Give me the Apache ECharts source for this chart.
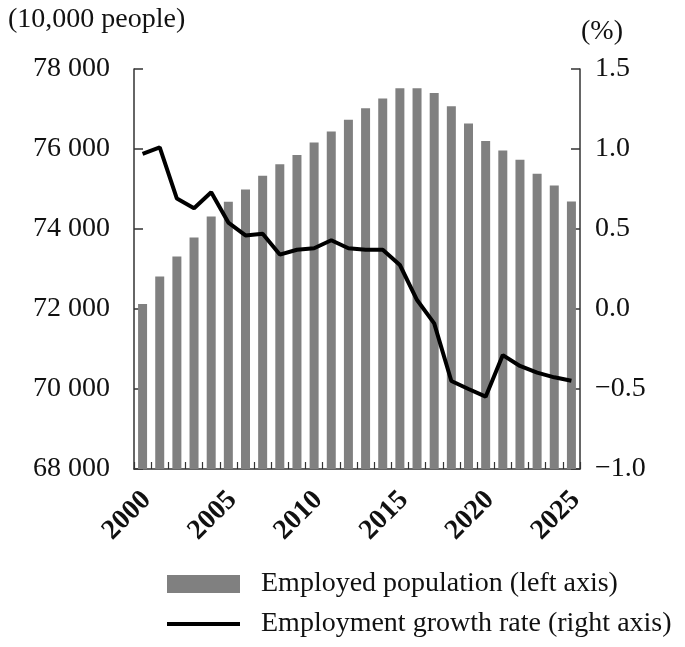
<!DOCTYPE html>
<html>
<head>
<meta charset="utf-8">
<script src="https://cdn.jsdelivr.net/npm/echarts@6/dist/echarts.min.js"></script>
<style>
html,body{margin:0;padding:0;background:#fff;}
#chart{width:685px;height:647px;}
</style>
</head>
<body>
<div id="chart"></div>
<script>
const years = ['2000','2001','2002','2003','2004','2005','2006','2007','2008','2009','2010','2011','2012','2013','2014','2015','2016','2017','2018','2019','2020','2021','2022','2023','2024','2025'];
const employedPopulation = [72125, 72810, 73310, 73790, 74310, 74680, 74990, 75330, 75620, 75850, 76160, 76440, 76730, 77020, 77260, 77520, 77520, 77400, 77070, 76640, 76200, 75960, 75730, 75380, 75090, 74690];
const growthRate = [0.97, 1.01, 0.69, 0.63, 0.73, 0.54, 0.46, 0.47, 0.34, 0.37, 0.38, 0.43, 0.38, 0.37, 0.37, 0.275, 0.056, -0.09, -0.45, -0.50, -0.548, -0.288, -0.356, -0.398, -0.427, -0.448];
const leftUnit = '(10,000 people)';
const rightUnit = '(%)';
const seriesNames = ['Employed population (left axis)', 'Employment growth rate (right axis)'];

const FONT = '"Liberation Serif", "Times New Roman", serif';
const chart = echarts.init(document.getElementById('chart'));
const axisLine = { show: true, onZero: false, lineStyle: { color: '#333', width: 1.5 } };
const legendText = { fontFamily: FONT, fontSize: 28, color: '#111', padding: [0, 0, 0, 16] };
chart.setOption({
  animation: false,
  backgroundColor: '#fff',
  grid: { left: 134, right: 105, top: 69, bottom: 178 },
  legend: [
    {
      left: 162, top: 565, itemWidth: 73, itemHeight: 18,
      textStyle: legendText,
      data: [{ name: seriesNames[0], icon: 'rect', itemStyle: { color: '#808080' } }]
    },
    {
      left: 162, top: 605, itemWidth: 73, itemHeight: 4,
      textStyle: legendText,
      data: [{ name: seriesNames[1], icon: 'rect', itemStyle: { color: '#000' } }]
    }
  ],
  graphic: [
    { type: 'text', left: 8, top: 6, style: { text: leftUnit, font: '28px ' + FONT, fill: '#111' } },
    { type: 'text', left: 581, top: 18, style: { text: rightUnit, font: '28px ' + FONT, fill: '#111' } }
  ],
  xAxis: {
    type: 'category',
    data: years,
    boundaryGap: true,
    axisLine: axisLine,
    axisTick: { show: true, inside: true, length: 7, interval: 0, lineStyle: { color: '#333', width: 1.2 } },
    axisLabel: {
      interval: 4, rotate: 45, margin: 31,
      fontFamily: FONT, fontSize: 28, fontWeight: 'bold', color: '#111',
      padding: [0, -6, 0, 0]
    },
    splitLine: { show: false }
  },
  yAxis: [
    {
      type: 'value', min: 68000, max: 78000, interval: 2000, position: 'left',
      axisLine: axisLine,
      axisTick: { show: true, inside: true, length: 9, lineStyle: { color: '#333', width: 1.5 } },
      axisLabel: {
        margin: 24, fontFamily: FONT, fontSize: 28, color: '#111',
        formatter: v => String(v).replace(/\B(?=(\d{3})+(?!\d))/g, ' ')
      },
      splitLine: { show: false }
    },
    {
      type: 'value', min: -1, max: 1.5, interval: 0.5, position: 'right',
      axisLine: axisLine,
      axisTick: { show: true, inside: true, length: 9, lineStyle: { color: '#333', width: 1.5 } },
      axisLabel: {
        margin: 15, fontFamily: FONT, fontSize: 28, color: '#111',
        formatter: v => (v < 0 ? '\u2212' : '') + Math.abs(v).toFixed(1)
      },
      splitLine: { show: false }
    }
  ],
  series: [
    {
      name: seriesNames[0], type: 'bar', yAxisIndex: 0,
      data: employedPopulation, barWidth: 9,
      itemStyle: { color: '#808080' }
    },
    {
      name: seriesNames[1], type: 'line', yAxisIndex: 1,
      data: growthRate, symbol: 'none', showSymbol: false,
      lineStyle: { color: '#000', width: 4 },
      itemStyle: { color: '#000' }
    }
  ]
});
</script>
</body>
</html>
